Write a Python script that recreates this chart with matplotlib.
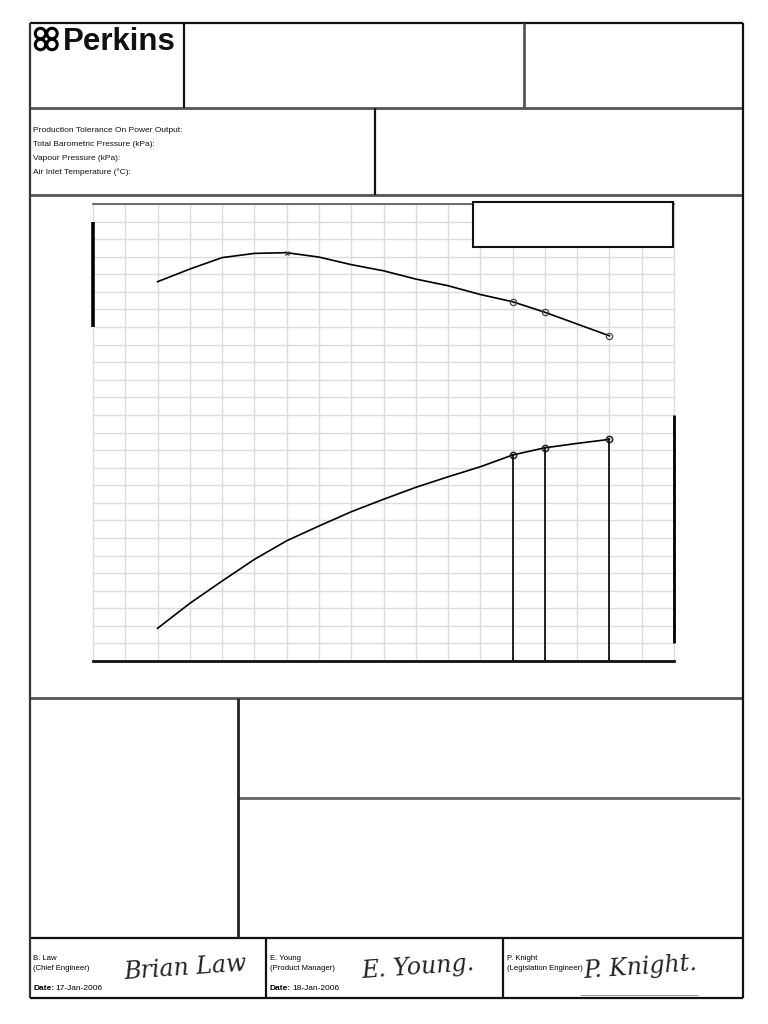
import matplotlib
matplotlib.use("Agg")
import matplotlib.pyplot as plt
from matplotlib.patches import Rectangle, Circle

plt.rcParams['font.family'] = ['Liberation Sans', 'DejaVu Sans']

# engine curves, in grid units (18 columns x 26 rows, no scale printed)
speed = [2, 3, 4, 5, 6, 7, 8, 9, 10, 11, 12, 13, 14, 15, 16]
torque = [21.58, 22.30, 22.95, 23.19, 23.23, 22.98, 22.55, 22.2, 21.73, 21.35,
          20.85, 20.44, 19.84, 19.17, 18.50]
power = [1.86, 3.28, 4.55, 5.78, 6.84, 7.68, 8.49, 9.2, 9.88, 10.48, 11.05,
         11.72, 12.13, 12.38, 12.61]
rated_speeds = [13, 14, 16]
peak_torque_speed = 6

info_lines = ["Production Tolerance On Power Output:",
              "Total Barometric Pressure (kPa):",
              "Vapour Pressure (kPa):",
              "Air Inlet Temperature (\u00b0C):"]
signers = [("B. Law", "(Chief Engineer)", "17-Jan-2006", "Brian Law"),
           ("E. Young", "(Product Manager)", "18-Jan-2006", "E. Young."),
           ("P. Knight", "(Legislation Engineer)", None, "P. Knight.")]

W, H = 768, 1024
fig = plt.figure(figsize=(W / 100, H / 100), dpi=100)
fig.patch.set_facecolor("white")


def frac(x0, y0, x1, y1):
    return [x0 / W, 1 - y1 / H, (x1 - x0) / W, (y1 - y0) / H]


# ---- chart ----
ax = fig.add_axes(frac(93, 204, 674, 661), zorder=1)
ax.set_xlim(0, 18)
ax.set_ylim(0, 26)
ax.set_xticks(range(0, 19))
ax.set_yticks(range(0, 27))
ax.grid(True, color="#dcdcdc", linewidth=1.0, clip_on=False)
ax.tick_params(length=0, labelbottom=False, labelleft=False)
for s in ["left", "right"]:
    ax.spines[s].set_visible(False)
ax.spines["top"].set_color("#555555")
ax.spines["top"].set_linewidth(1.2)
ax.spines["bottom"].set_color("#111111")
ax.spines["bottom"].set_linewidth(2.0)
ax.set_axisbelow(True)

ax.plot(speed, torque, color="black", lw=1.2)
ax.plot(speed, power, color="black", lw=1.2)

idx = [speed.index(s) for s in rated_speeds]
ax.plot(rated_speeds, [torque[i] for i in idx], 'o', ms=4.5, mfc="none",
        mec="#444444", mew=0.9)
ax.plot(rated_speeds, [power[i] for i in idx], 'o', ms=4.5, mfc="none",
        mec="#222222", mew=1.1)
ax.plot([peak_torque_speed], [torque[speed.index(peak_torque_speed)]], 'x',
        ms=3.5, color="#333333", mew=0.9)
for i in idx:
    ax.plot([speed[i], speed[i]], [0, power[i]], color="black", lw=1.2)

# axis bars
ax.plot([0, 0], [19, 25], color="black", lw=2.6, clip_on=False,
        solid_capstyle="butt")
ax.plot([18, 18], [1, 14], color="black", lw=2.0, clip_on=False,
        solid_capstyle="butt")

# ---- page frame ----
pg = fig.add_axes([0, 0, 1, 1], zorder=2)
pg.set_xlim(0, W)
pg.set_ylim(H, 0)
pg.axis("off")
pg.patch.set_alpha(0)

dark = "#333333"


def hl(y, x0, x1, lw=1.6, c=dark):
    pg.plot([x0, x1], [y, y], color=c, lw=lw, solid_capstyle="butt")


def vl(x, y0, y1, lw=1.6, c=dark):
    pg.plot([x, x], [y0, y1], color=c, lw=lw, solid_capstyle="butt")


hl(22.5, 29.5, 742.5, c="#111111")
hl(107.5, 29.5, 742.5, lw=2.0, c="#555555")
hl(194.5, 29.5, 742.5, lw=2.0, c="#555555")
hl(698, 29.5, 742.5, lw=2.0, c="#555555")
hl(797.5, 238, 740, lw=2.0, c="#666666")
hl(937.5, 29.5, 742.5, c="#111111")
hl(997.5, 29.5, 742.5, c="#111111")
vl(29.5, 22.5, 997.5)
vl(742.5, 22.5, 997.5, c="#111111")
vl(183.5, 22.5, 107.5, c="#111111")
vl(524, 22.5, 107.5, lw=2.0, c="#555555")
vl(374.5, 107.5, 194.5, c="#111111")
vl(238, 698, 937.5, lw=2.0, c="#222222")
vl(265.5, 937.5, 997.5, c="#111111")
vl(502.5, 937.5, 997.5, c="#111111")

# legend box in chart
pg.add_patch(Rectangle((473, 202), 200, 45, facecolor="white",
                       edgecolor="#111111", lw=1.5))

# ---- logo ----
for cx, cy in [(40.5, 33.5), (52, 33.5), (40.5, 44.5), (52, 44.5)]:
    pg.add_patch(Circle((cx, cy), 5.2, fill=False, ec="black", lw=2.2))
pg.text(63, 50, "Perkins", fontsize=22.5, fontweight="bold", color="#111111",
        ha="left", va="baseline")

# ---- test conditions ----
for i, t in enumerate(info_lines):
    pg.text(33, 130 + 14 * i, t, fontsize=6, ha="left", va="center",
            color="#111111")

# ---- signatures ----
col_x = [33, 270, 507]
sig_x = [185, 418, 640]
for (name, role, date, sig), x0, sx in zip(signers, col_x, sig_x):
    pg.text(x0, 958, name, fontsize=5.6, ha="left", va="center")
    pg.text(x0, 969, role, fontsize=5.6, ha="left", va="center")
    if date:
        pg.text(x0, 988, "Date:", fontsize=6, fontweight="bold", ha="left",
                va="center")
        pg.text(x0 + 22, 988, date, fontsize=6, ha="left", va="center")
    pg.text(sx, 968, sig, fontsize=17, family="DejaVu Serif",
            fontstyle="italic", ha="center", va="center", color="#222222",
            rotation=4)
hl(995, 580, 698, lw=0.7, c="#999999")

fig.savefig("out.png", dpi=100)
